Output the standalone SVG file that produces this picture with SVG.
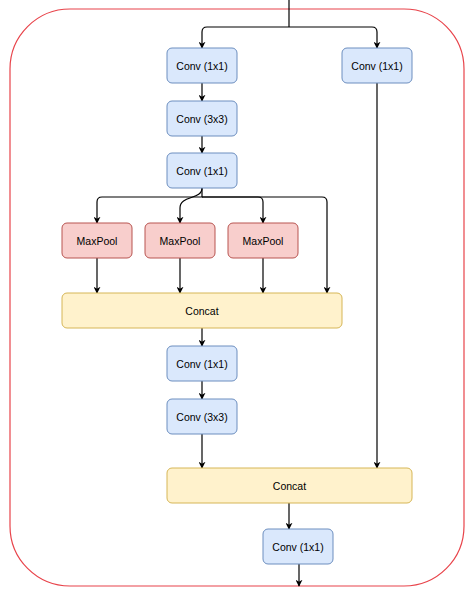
<svg xmlns="http://www.w3.org/2000/svg" width="474" height="603" viewBox="0 0 474 603">
<defs>
<marker id="arr" viewBox="0 0 10 10" refX="9" refY="5" markerWidth="7" markerHeight="7" markerUnits="userSpaceOnUse" orient="auto">
<path d="M0,0 L10,5 L0,10 L3,5 Z" fill="#000"/>
</marker>
<style>
.conv{fill:#dae8fc;stroke:#6c8ebf;stroke-width:1}
.pool{fill:#f8cecc;stroke:#b85450;stroke-width:1}
.cat{fill:#fff2cc;stroke:#d6b656;stroke-width:1}
text{font-family:"Liberation Sans",Arial,sans-serif;font-size:10.5px;fill:#000;text-anchor:middle;dominant-baseline:central}
.e{fill:none;stroke:#000;stroke-width:1.2;marker-end:url(#arr)}
.l{fill:none;stroke:#000;stroke-width:1.2}
</style>
</defs>
<rect width="474" height="603" fill="#fff"/>
<rect id="container" x="10" y="9" width="454" height="577" rx="60" ry="60" fill="none" stroke="#e8434a" stroke-width="1.2"/>
<g id="connectors">
<path class="l" d="M289,0 L289,27"/>
<path class="e" d="M289,27 L207,27 Q202,27 202,32 L202,48"/>
<path class="e" d="M289,27 L372,27 Q377,27 377,32 L377,48"/>
<path class="e" d="M202,83 L202,101"/>
<path class="e" d="M202,136 L202,153"/>
<path class="e" d="M202,188 L202,197 L102,197 Q97,197 97,202 L97,223"/>
<path class="e" d="M202,188 C202,200 180,195 180,208 L180,223"/>
<path class="e" d="M202,197 L258,197 Q263,197 263,202 L263,223"/>
<path class="e" d="M202,197 L322,197 Q327,197 327,202 L327,293"/>
<path class="e" d="M97,258 L97,293"/>
<path class="e" d="M180,258 L180,293"/>
<path class="e" d="M263,258 L263,293"/>
<path class="e" d="M202,328 L202,346"/>
<path class="e" d="M202,381 L202,399"/>
<path class="e" d="M202,434 L202,468"/>
<path class="e" d="M377,83 L377,468"/>
<path class="e" d="M289,503 L289,529"/>
<path class="e" d="M299,564 L299,586"/>
</g>
<g id="conv1"><rect class="conv" x="167" y="48" width="70" height="35" rx="5"/><text x="202" y="65.5">Conv (1x1)</text></g>
<g id="conv_right"><rect class="conv" x="342" y="48" width="70" height="35" rx="5"/><text x="377" y="65.5">Conv (1x1)</text></g>
<g id="conv2"><rect class="conv" x="167" y="101" width="70" height="35" rx="5"/><text x="202" y="118.5">Conv (3x3)</text></g>
<g id="conv3"><rect class="conv" x="167" y="153" width="70" height="35" rx="5"/><text x="202" y="170.5">Conv (1x1)</text></g>
<g id="pool1"><rect class="pool" x="62" y="223" width="70" height="35" rx="5"/><text x="97" y="240.5">MaxPool</text></g>
<g id="pool2"><rect class="pool" x="145" y="223" width="70" height="35" rx="5"/><text x="180" y="240.5">MaxPool</text></g>
<g id="pool3"><rect class="pool" x="228" y="223" width="70" height="35" rx="5"/><text x="263" y="240.5">MaxPool</text></g>
<g id="concat1"><rect class="cat" x="62" y="293" width="280" height="35" rx="5"/><text x="202" y="310.5">Concat</text></g>
<g id="conv4"><rect class="conv" x="167" y="346" width="70" height="35" rx="5"/><text x="202" y="363.5">Conv (1x1)</text></g>
<g id="conv5"><rect class="conv" x="167" y="399" width="70" height="35" rx="5"/><text x="202" y="416.5">Conv (3x3)</text></g>
<g id="concat2"><rect class="cat" x="167" y="468" width="245" height="35" rx="5"/><text x="289.5" y="485.5">Concat</text></g>
<g id="conv6"><rect class="conv" x="263" y="529" width="70" height="35" rx="5"/><text x="298" y="546.5">Conv (1x1)</text></g>
</svg>
